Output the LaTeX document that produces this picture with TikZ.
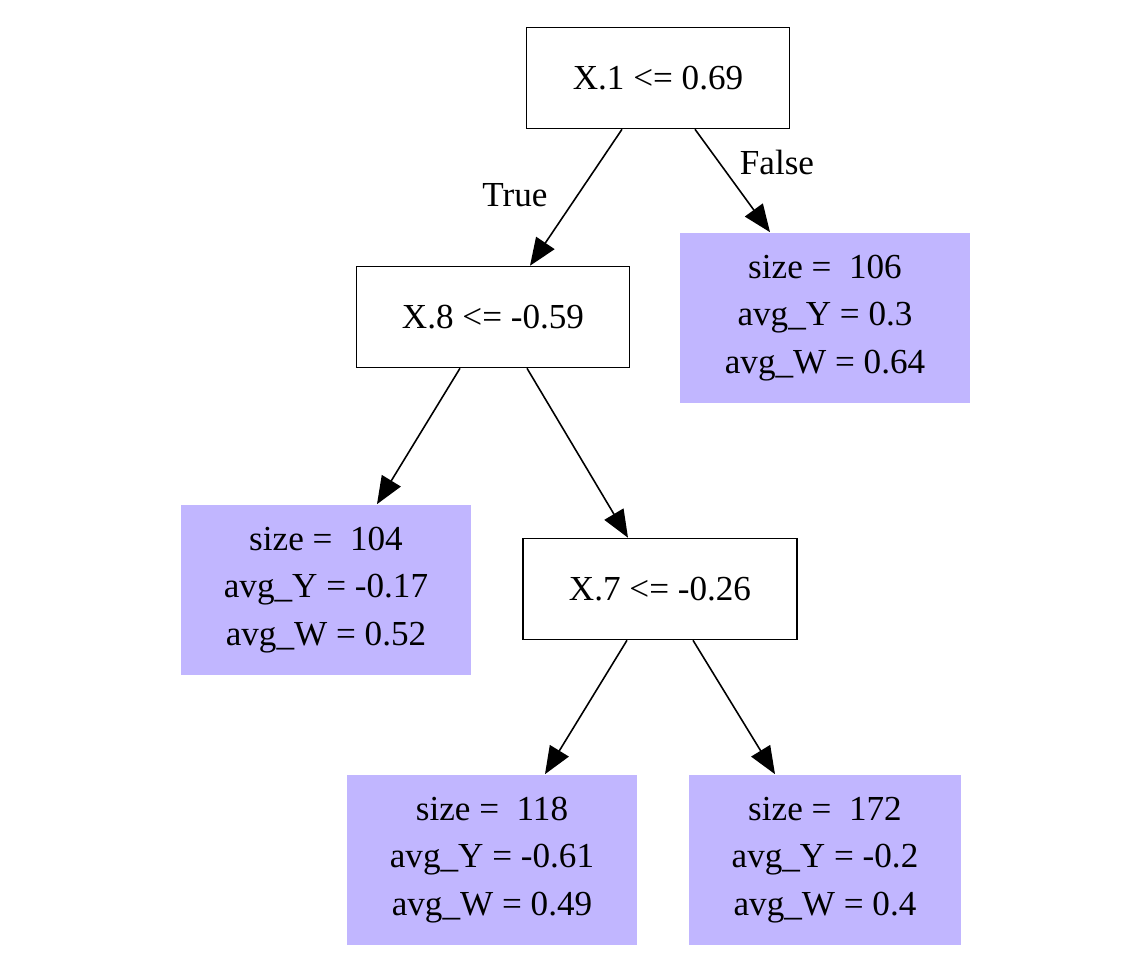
\documentclass[tikz,border=0pt]{standalone}
\usepackage{fontspec}
\setmainfont{Liberation Serif}
\usetikzlibrary{arrows.meta,calc}
\definecolor{leaf}{RGB}{193,182,255}
\begin{document}
\begin{tikzpicture}[x=0.02cm,y=-0.02cm,
  base/.style={font=\fontsize{20}{27}\selectfont,align=center,inner sep=0pt},
  split/.style={base,draw,line width=0.9pt,minimum width=5.26cm,minimum height=2.02cm},
  leafbox/.style={base,fill=leaf,minimum width=5.82cm,minimum height=3.42cm},
  edge/.style={line width=0.9pt,-{Triangle[length=0.55cm,width=0.44cm]}}]
\useasboundingbox (0,0) rectangle (1147,971);
\node[split] (root) at (658,78) {X.1 <= 0.69};
\node[leafbox] (lf) at (825,318) {size = \ 106\\avg\_Y = 0.3\\avg\_W = 0.64};
\node[split,minimum width=5.46cm] (x8) at (493,317) {X.8 <= -0.59};
\node[leafbox] (l104) at (326,590) {size = \ 104\\avg\_Y = -0.17\\avg\_W = 0.52};
\node[split,minimum width=5.48cm] (x7) at (660,589) {X.7 <= -0.26};
\node[leafbox] (l118) at (492,860) {size = \ 118\\avg\_Y = -0.61\\avg\_W = 0.49};
\node[leafbox,minimum width=5.46cm] (l172) at (825,860) {size = \ 172\\avg\_Y = -0.2\\avg\_W = 0.4};
\draw[edge] ($(root.south)+(-36,0)$) -- ($(x8.north)+(37,0)$);
\draw[edge] ($(root.south)+(37,0)$) -- ($(lf.north)+(-55,0)$);
\draw[edge] ($(x8.south)+(-33,0)$) -- ($(l104.north)+(51,0)$);
\draw[edge] ($(x8.south)+(34,0)$) -- ($(x7.north)+(-32,0)$);
\draw[edge] ($(x7.south)+(-33,0)$) -- ($(l118.north)+(53,0)$);
\draw[edge] ($(x7.south)+(33,0)$) -- ($(l172.north)+(-50,0)$);
\node[base] (t) at (515,195) {True};
\node[base] (f) at (777,162) {False};
\end{tikzpicture}
\end{document}
